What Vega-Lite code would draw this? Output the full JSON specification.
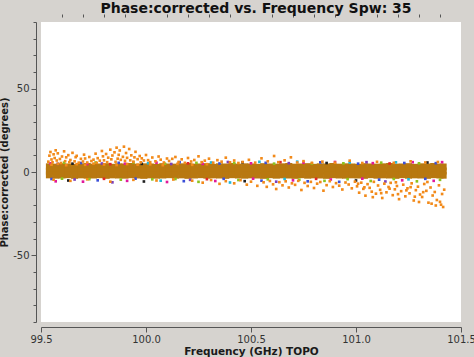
{
"$schema": "https://vega.github.io/schema/vega-lite/v6.json",
"width": 420, "height": 300,
"autosize": {"type": "none"},
"padding": {"left": 41, "top": 22, "right": 13, "bottom": 35},
"background": "#d6d3cf",
"view": {"fill": "white", "stroke": null},
"title": {"text": "Phase:corrected vs. Frequency Spw: 35", "font": "DejaVu Sans", "fontSize": 14, "fontWeight": "bold", "color": "#111111", "offset": -2, "dx": 5},
"config": {"axis": {"domainColor": "#555555", "tickColor": "#555555", "labelColor": "#333333", "labelFont": "DejaVu Sans", "labelFontSize": 10, "titleFont": "DejaVu Sans", "titleFontWeight": "bold", "titleColor": "#1a1a1a", "grid": false}},
"data": {"values": [
{"freq":99.54,"phase":3.1,"bl":"B"},{"freq":99.54,"phase":0.5,"bl":"B"},{"freq":99.54,"phase":-1.7,"bl":"B"},
{"freq":99.57,"phase":2.9,"bl":"B"},{"freq":99.57,"phase":0.7,"bl":"B"},{"freq":99.57,"phase":-1.9,"bl":"B"},
{"freq":99.60,"phase":3.2,"bl":"B"},{"freq":99.60,"phase":0.4,"bl":"B"},{"freq":99.60,"phase":-1.8,"bl":"B"},
{"freq":99.63,"phase":3.0,"bl":"B"},{"freq":99.63,"phase":0.8,"bl":"B"},{"freq":99.63,"phase":-1.6,"bl":"B"},
{"freq":99.66,"phase":2.8,"bl":"B"},{"freq":99.66,"phase":0.6,"bl":"B"},{"freq":99.66,"phase":-2.0,"bl":"B"},
{"freq":99.69,"phase":3.1,"bl":"B"},{"freq":99.69,"phase":0.5,"bl":"B"},{"freq":99.69,"phase":-1.7,"bl":"B"},
{"freq":99.72,"phase":3.3,"bl":"B"},{"freq":99.72,"phase":0.7,"bl":"B"},{"freq":99.72,"phase":-1.9,"bl":"B"},
{"freq":99.75,"phase":2.9,"bl":"B"},{"freq":99.75,"phase":0.4,"bl":"B"},{"freq":99.75,"phase":-1.8,"bl":"B"},
{"freq":99.78,"phase":3.0,"bl":"B"},{"freq":99.78,"phase":0.6,"bl":"B"},{"freq":99.78,"phase":-1.6,"bl":"B"},
{"freq":99.81,"phase":3.2,"bl":"B"},{"freq":99.81,"phase":0.8,"bl":"B"},{"freq":99.81,"phase":-2.0,"bl":"B"},
{"freq":99.84,"phase":2.8,"bl":"B"},{"freq":99.84,"phase":0.5,"bl":"B"},{"freq":99.84,"phase":-1.7,"bl":"B"},
{"freq":99.87,"phase":3.1,"bl":"B"},{"freq":99.87,"phase":0.7,"bl":"B"},{"freq":99.87,"phase":-1.8,"bl":"B"},
{"freq":99.90,"phase":3.0,"bl":"B"},{"freq":99.90,"phase":0.4,"bl":"B"},{"freq":99.90,"phase":-1.9,"bl":"B"},
{"freq":99.93,"phase":3.3,"bl":"B"},{"freq":99.93,"phase":0.6,"bl":"B"},{"freq":99.93,"phase":-1.6,"bl":"B"},
{"freq":99.96,"phase":2.9,"bl":"B"},{"freq":99.96,"phase":0.8,"bl":"B"},{"freq":99.96,"phase":-1.8,"bl":"B"},
{"freq":99.99,"phase":3.1,"bl":"B"},{"freq":99.99,"phase":0.5,"bl":"B"},{"freq":99.99,"phase":-2.0,"bl":"B"},
{"freq":100.02,"phase":3.0,"bl":"B"},{"freq":100.02,"phase":0.7,"bl":"B"},{"freq":100.02,"phase":-1.7,"bl":"B"},
{"freq":100.05,"phase":2.8,"bl":"B"},{"freq":100.05,"phase":0.4,"bl":"B"},{"freq":100.05,"phase":-1.9,"bl":"B"},
{"freq":100.08,"phase":3.2,"bl":"B"},{"freq":100.08,"phase":0.6,"bl":"B"},{"freq":100.08,"phase":-1.8,"bl":"B"},
{"freq":100.11,"phase":3.0,"bl":"B"},{"freq":100.11,"phase":0.8,"bl":"B"},{"freq":100.11,"phase":-1.6,"bl":"B"},
{"freq":100.14,"phase":2.9,"bl":"B"},{"freq":100.14,"phase":0.5,"bl":"B"},{"freq":100.14,"phase":-1.9,"bl":"B"},
{"freq":100.17,"phase":3.1,"bl":"B"},{"freq":100.17,"phase":0.7,"bl":"B"},{"freq":100.17,"phase":-1.7,"bl":"B"},
{"freq":100.20,"phase":3.3,"bl":"B"},{"freq":100.20,"phase":0.4,"bl":"B"},{"freq":100.20,"phase":-2.0,"bl":"B"},
{"freq":100.23,"phase":2.9,"bl":"B"},{"freq":100.23,"phase":0.6,"bl":"B"},{"freq":100.23,"phase":-1.8,"bl":"B"},
{"freq":100.26,"phase":3.0,"bl":"B"},{"freq":100.26,"phase":0.8,"bl":"B"},{"freq":100.26,"phase":-1.6,"bl":"B"},
{"freq":100.29,"phase":3.2,"bl":"B"},{"freq":100.29,"phase":0.5,"bl":"B"},{"freq":100.29,"phase":-1.9,"bl":"B"},
{"freq":100.32,"phase":2.8,"bl":"B"},{"freq":100.32,"phase":0.7,"bl":"B"},{"freq":100.32,"phase":-1.7,"bl":"B"},
{"freq":100.35,"phase":3.1,"bl":"B"},{"freq":100.35,"phase":0.4,"bl":"B"},{"freq":100.35,"phase":-1.8,"bl":"B"},
{"freq":100.38,"phase":3.0,"bl":"B"},{"freq":100.38,"phase":0.6,"bl":"B"},{"freq":100.38,"phase":-2.0,"bl":"B"},
{"freq":100.41,"phase":3.3,"bl":"B"},{"freq":100.41,"phase":0.8,"bl":"B"},{"freq":100.41,"phase":-1.6,"bl":"B"},
{"freq":100.44,"phase":2.9,"bl":"B"},{"freq":100.44,"phase":0.5,"bl":"B"},{"freq":100.44,"phase":-1.8,"bl":"B"},
{"freq":100.47,"phase":3.1,"bl":"B"},{"freq":100.47,"phase":0.7,"bl":"B"},{"freq":100.47,"phase":-1.9,"bl":"B"},
{"freq":100.50,"phase":3.0,"bl":"B"},{"freq":100.50,"phase":0.4,"bl":"B"},{"freq":100.50,"phase":-1.7,"bl":"B"},
{"freq":100.53,"phase":2.8,"bl":"B"},{"freq":100.53,"phase":0.6,"bl":"B"},{"freq":100.53,"phase":-1.8,"bl":"B"},
{"freq":100.56,"phase":3.2,"bl":"B"},{"freq":100.56,"phase":0.8,"bl":"B"},{"freq":100.56,"phase":-2.0,"bl":"B"},
{"freq":100.59,"phase":3.0,"bl":"B"},{"freq":100.59,"phase":0.5,"bl":"B"},{"freq":100.59,"phase":-1.6,"bl":"B"},
{"freq":100.62,"phase":2.9,"bl":"B"},{"freq":100.62,"phase":0.7,"bl":"B"},{"freq":100.62,"phase":-1.9,"bl":"B"},
{"freq":100.65,"phase":3.1,"bl":"B"},{"freq":100.65,"phase":0.4,"bl":"B"},{"freq":100.65,"phase":-1.7,"bl":"B"},
{"freq":100.68,"phase":3.3,"bl":"B"},{"freq":100.68,"phase":0.6,"bl":"B"},{"freq":100.68,"phase":-1.8,"bl":"B"},
{"freq":100.71,"phase":2.9,"bl":"B"},{"freq":100.71,"phase":0.8,"bl":"B"},{"freq":100.71,"phase":-2.0,"bl":"B"},
{"freq":100.74,"phase":3.0,"bl":"B"},{"freq":100.74,"phase":0.5,"bl":"B"},{"freq":100.74,"phase":-1.6,"bl":"B"},
{"freq":100.77,"phase":3.2,"bl":"B"},{"freq":100.77,"phase":0.7,"bl":"B"},{"freq":100.77,"phase":-1.9,"bl":"B"},
{"freq":100.80,"phase":2.8,"bl":"B"},{"freq":100.80,"phase":0.4,"bl":"B"},{"freq":100.80,"phase":-1.7,"bl":"B"},
{"freq":100.83,"phase":3.1,"bl":"B"},{"freq":100.83,"phase":0.6,"bl":"B"},{"freq":100.83,"phase":-1.8,"bl":"B"},
{"freq":100.86,"phase":3.0,"bl":"B"},{"freq":100.86,"phase":0.8,"bl":"B"},{"freq":100.86,"phase":-2.0,"bl":"B"},
{"freq":100.89,"phase":3.3,"bl":"B"},{"freq":100.89,"phase":0.5,"bl":"B"},{"freq":100.89,"phase":-1.6,"bl":"B"},
{"freq":100.92,"phase":2.9,"bl":"B"},{"freq":100.92,"phase":0.7,"bl":"B"},{"freq":100.92,"phase":-1.8,"bl":"B"},
{"freq":100.95,"phase":3.1,"bl":"B"},{"freq":100.95,"phase":0.4,"bl":"B"},{"freq":100.95,"phase":-1.9,"bl":"B"},
{"freq":100.98,"phase":3.0,"bl":"B"},{"freq":100.98,"phase":0.6,"bl":"B"},{"freq":100.98,"phase":-1.7,"bl":"B"},
{"freq":101.01,"phase":2.8,"bl":"B"},{"freq":101.01,"phase":0.8,"bl":"B"},{"freq":101.01,"phase":-1.8,"bl":"B"},
{"freq":101.04,"phase":3.2,"bl":"B"},{"freq":101.04,"phase":0.5,"bl":"B"},{"freq":101.04,"phase":-2.0,"bl":"B"},
{"freq":101.07,"phase":3.0,"bl":"B"},{"freq":101.07,"phase":0.7,"bl":"B"},{"freq":101.07,"phase":-1.6,"bl":"B"},
{"freq":101.10,"phase":2.9,"bl":"B"},{"freq":101.10,"phase":0.4,"bl":"B"},{"freq":101.10,"phase":-1.9,"bl":"B"},
{"freq":101.13,"phase":3.1,"bl":"B"},{"freq":101.13,"phase":0.6,"bl":"B"},{"freq":101.13,"phase":-1.7,"bl":"B"},
{"freq":101.16,"phase":3.3,"bl":"B"},{"freq":101.16,"phase":0.8,"bl":"B"},{"freq":101.16,"phase":-1.8,"bl":"B"},
{"freq":101.19,"phase":2.9,"bl":"B"},{"freq":101.19,"phase":0.5,"bl":"B"},{"freq":101.19,"phase":-2.0,"bl":"B"},
{"freq":101.22,"phase":3.0,"bl":"B"},{"freq":101.22,"phase":0.7,"bl":"B"},{"freq":101.22,"phase":-1.6,"bl":"B"},
{"freq":101.25,"phase":3.2,"bl":"B"},{"freq":101.25,"phase":0.4,"bl":"B"},{"freq":101.25,"phase":-1.9,"bl":"B"},
{"freq":101.28,"phase":2.8,"bl":"B"},{"freq":101.28,"phase":0.6,"bl":"B"},{"freq":101.28,"phase":-1.7,"bl":"B"},
{"freq":101.31,"phase":3.1,"bl":"B"},{"freq":101.31,"phase":0.8,"bl":"B"},{"freq":101.31,"phase":-1.8,"bl":"B"},
{"freq":101.34,"phase":3.0,"bl":"B"},{"freq":101.34,"phase":0.5,"bl":"B"},{"freq":101.34,"phase":-2.0,"bl":"B"},
{"freq":101.37,"phase":3.3,"bl":"B"},{"freq":101.37,"phase":0.7,"bl":"B"},{"freq":101.37,"phase":-1.6,"bl":"B"},
{"freq":101.40,"phase":2.9,"bl":"B"},{"freq":101.40,"phase":0.4,"bl":"B"},{"freq":101.40,"phase":-1.8,"bl":"B"},
{"freq":101.415,"phase":3.0,"bl":"B"},{"freq":101.415,"phase":0.6,"bl":"B"},{"freq":101.415,"phase":-1.9,"bl":"B"},
{"freq":99.545,"phase":5.2,"bl":"M"},{"freq":99.58,"phase":4.9,"bl":"P"},{"freq":99.61,"phase":5.6,"bl":"G"},{"freq":99.65,"phase":5.0,"bl":"K"},
{"freq":99.69,"phase":5.4,"bl":"U"},{"freq":99.72,"phase":4.8,"bl":"M"},{"freq":99.76,"phase":5.7,"bl":"G"},{"freq":99.79,"phase":5.1,"bl":"P"},
{"freq":99.83,"phase":4.7,"bl":"R"},{"freq":99.87,"phase":5.5,"bl":"U"},{"freq":99.90,"phase":5.0,"bl":"M"},{"freq":99.94,"phase":5.8,"bl":"G"},
{"freq":99.98,"phase":4.9,"bl":"K"},{"freq":100.01,"phase":5.3,"bl":"C"},{"freq":100.05,"phase":5.6,"bl":"M"},{"freq":100.09,"phase":5.0,"bl":"G"},
{"freq":100.12,"phase":4.8,"bl":"P"},{"freq":100.16,"phase":5.9,"bl":"U"},{"freq":100.20,"phase":5.2,"bl":"R"},{"freq":100.24,"phase":5.5,"bl":"G"},
{"freq":100.27,"phase":4.9,"bl":"M"},{"freq":100.31,"phase":5.7,"bl":"C"},{"freq":100.35,"phase":5.1,"bl":"U"},{"freq":100.39,"phase":6.0,"bl":"P"},
{"freq":100.42,"phase":5.4,"bl":"G"},{"freq":100.46,"phase":5.8,"bl":"K"},{"freq":100.50,"phase":5.2,"bl":"M"},{"freq":100.54,"phase":6.1,"bl":"C"},
{"freq":100.57,"phase":5.5,"bl":"U"},{"freq":100.61,"phase":5.0,"bl":"G"},{"freq":100.64,"phase":5.9,"bl":"R"},{"freq":100.68,"phase":5.3,"bl":"P"},
{"freq":100.72,"phase":6.2,"bl":"C"},{"freq":100.75,"phase":5.6,"bl":"M"},{"freq":100.79,"phase":5.1,"bl":"G"},{"freq":100.83,"phase":5.8,"bl":"U"},
{"freq":100.86,"phase":5.4,"bl":"K"},{"freq":100.90,"phase":6.0,"bl":"M"},{"freq":100.94,"phase":5.2,"bl":"G"},{"freq":100.97,"phase":5.7,"bl":"C"},
{"freq":101.01,"phase":5.0,"bl":"U"},{"freq":101.05,"phase":5.9,"bl":"P"},{"freq":101.08,"phase":5.3,"bl":"M"},{"freq":101.12,"phase":5.6,"bl":"G"},
{"freq":101.16,"phase":5.1,"bl":"R"},{"freq":101.19,"phase":5.8,"bl":"C"},{"freq":101.23,"phase":5.4,"bl":"U"},{"freq":101.27,"phase":5.9,"bl":"M"},
{"freq":101.30,"phase":5.2,"bl":"G"},{"freq":101.34,"phase":5.7,"bl":"K"},{"freq":101.38,"phase":5.3,"bl":"U"},{"freq":101.41,"phase":5.9,"bl":"M"},
{"freq":99.55,"phase":-4.2,"bl":"U"},{"freq":99.57,"phase":-5.6,"bl":"M"},{"freq":99.60,"phase":-4.0,"bl":"G"},{"freq":99.63,"phase":-5.1,"bl":"K"},
{"freq":99.66,"phase":-4.5,"bl":"P"},{"freq":99.70,"phase":-5.8,"bl":"M"},{"freq":99.73,"phase":-4.3,"bl":"G"},{"freq":99.77,"phase":-5.0,"bl":"U"},
{"freq":99.80,"phase":-4.1,"bl":"R"},{"freq":99.84,"phase":-6.2,"bl":"P"},{"freq":99.88,"phase":-4.6,"bl":"G"},{"freq":99.91,"phase":-5.3,"bl":"M"},
{"freq":99.95,"phase":-4.0,"bl":"U"},{"freq":99.99,"phase":-5.7,"bl":"K"},{"freq":100.03,"phase":-4.4,"bl":"G"},{"freq":100.07,"phase":-5.2,"bl":"C"},
{"freq":100.10,"phase":-6.0,"bl":"M"},{"freq":100.14,"phase":-4.2,"bl":"G"},{"freq":100.18,"phase":-5.5,"bl":"U"},{"freq":100.21,"phase":-4.7,"bl":"P"},
{"freq":100.25,"phase":-5.9,"bl":"G"},{"freq":100.29,"phase":-4.3,"bl":"R"},{"freq":100.33,"phase":-5.4,"bl":"M"},{"freq":100.37,"phase":-4.1,"bl":"U"},
{"freq":100.40,"phase":-6.3,"bl":"C"},{"freq":100.44,"phase":-4.8,"bl":"G"},{"freq":100.47,"phase":-5.5,"bl":"K"},{"freq":100.51,"phase":-4.0,"bl":"M"},
{"freq":100.55,"phase":-5.2,"bl":"U"},{"freq":100.58,"phase":-4.4,"bl":"G"},{"freq":100.62,"phase":-5.8,"bl":"P"},{"freq":100.66,"phase":-4.2,"bl":"C"},
{"freq":100.70,"phase":-5.0,"bl":"M"},{"freq":100.73,"phase":-4.6,"bl":"G"},{"freq":100.77,"phase":-5.6,"bl":"U"},{"freq":100.81,"phase":-4.1,"bl":"R"},
{"freq":100.85,"phase":-5.3,"bl":"G"},{"freq":100.88,"phase":-4.5,"bl":"M"},{"freq":100.92,"phase":-5.9,"bl":"U"},{"freq":100.96,"phase":-4.3,"bl":"G"},
{"freq":101.00,"phase":-5.1,"bl":"K"},{"freq":101.03,"phase":-4.0,"bl":"M"},{"freq":101.07,"phase":-5.4,"bl":"G"},{"freq":101.11,"phase":-4.6,"bl":"U"},
{"freq":101.14,"phase":-5.7,"bl":"P"},{"freq":101.18,"phase":-4.2,"bl":"G"},{"freq":101.22,"phase":-5.0,"bl":"M"},{"freq":101.25,"phase":-4.4,"bl":"C"},
{"freq":101.29,"phase":-5.6,"bl":"G"},{"freq":101.33,"phase":-4.1,"bl":"U"},{"freq":101.37,"phase":-5.3,"bl":"M"},{"freq":101.40,"phase":-4.7,"bl":"G"},
{"freq":99.535,"phase":6.2,"bl":"O"},{"freq":99.54,"phase":9.8,"bl":"O"},{"freq":99.545,"phase":12.0,"bl":"O"},{"freq":99.55,"phase":7.5,"bl":"O"},
{"freq":99.555,"phase":5.8,"bl":"O"},{"freq":99.56,"phase":10.6,"bl":"O"},{"freq":99.565,"phase":8.4,"bl":"O"},{"freq":99.57,"phase":13.0,"bl":"O"},
{"freq":99.575,"phase":6.9,"bl":"O"},{"freq":99.58,"phase":11.2,"bl":"O"},{"freq":99.59,"phase":7.8,"bl":"O"},{"freq":99.595,"phase":5.4,"bl":"O"},
{"freq":99.60,"phase":9.3,"bl":"O"},{"freq":99.61,"phase":12.4,"bl":"O"},{"freq":99.615,"phase":6.5,"bl":"O"},{"freq":99.62,"phase":8.8,"bl":"O"},
{"freq":99.63,"phase":10.1,"bl":"O"},{"freq":99.635,"phase":5.9,"bl":"O"},{"freq":99.64,"phase":7.2,"bl":"O"},{"freq":99.65,"phase":11.5,"bl":"O"},
{"freq":99.66,"phase":6.4,"bl":"O"},{"freq":99.665,"phase":8.9,"bl":"O"},{"freq":99.67,"phase":9.7,"bl":"O"},{"freq":99.68,"phase":5.6,"bl":"O"},
{"freq":99.69,"phase":7.9,"bl":"O"},{"freq":99.70,"phase":6.3,"bl":"O"},{"freq":99.705,"phase":10.4,"bl":"O"},{"freq":99.71,"phase":8.1,"bl":"O"},
{"freq":99.72,"phase":5.7,"bl":"O"},{"freq":99.73,"phase":9.0,"bl":"O"},{"freq":99.74,"phase":6.6,"bl":"O"},{"freq":99.75,"phase":7.4,"bl":"O"},
{"freq":99.76,"phase":11.0,"bl":"O"},{"freq":99.765,"phase":5.5,"bl":"O"},{"freq":99.77,"phase":8.3,"bl":"O"},{"freq":99.78,"phase":6.8,"bl":"O"},
{"freq":99.79,"phase":12.6,"bl":"O"},{"freq":99.795,"phase":9.4,"bl":"O"},{"freq":99.80,"phase":7.0,"bl":"O"},{"freq":99.81,"phase":10.8,"bl":"O"},
{"freq":99.815,"phase":5.9,"bl":"O"},{"freq":99.82,"phase":8.6,"bl":"O"},{"freq":99.83,"phase":13.4,"bl":"O"},{"freq":99.835,"phase":7.6,"bl":"O"},
{"freq":99.84,"phase":9.9,"bl":"O"},{"freq":99.85,"phase":11.8,"bl":"O"},{"freq":99.855,"phase":6.1,"bl":"O"},{"freq":99.86,"phase":14.6,"bl":"O"},
{"freq":99.865,"phase":8.0,"bl":"O"},{"freq":99.87,"phase":10.3,"bl":"O"},{"freq":99.875,"phase":12.9,"bl":"O"},{"freq":99.88,"phase":7.3,"bl":"O"},
{"freq":99.89,"phase":9.1,"bl":"O"},{"freq":99.895,"phase":15.2,"bl":"O"},{"freq":99.90,"phase":6.7,"bl":"O"},{"freq":99.905,"phase":11.4,"bl":"O"},
{"freq":99.91,"phase":8.5,"bl":"O"},{"freq":99.92,"phase":13.8,"bl":"O"},{"freq":99.925,"phase":7.0,"bl":"O"},{"freq":99.93,"phase":10.0,"bl":"O"},
{"freq":99.94,"phase":6.2,"bl":"O"},{"freq":99.945,"phase":8.8,"bl":"O"},{"freq":99.95,"phase":12.1,"bl":"O"},{"freq":99.96,"phase":7.7,"bl":"O"},
{"freq":99.97,"phase":9.6,"bl":"O"},{"freq":99.975,"phase":5.8,"bl":"O"},{"freq":99.98,"phase":8.2,"bl":"O"},{"freq":99.99,"phase":6.9,"bl":"O"},
{"freq":100.00,"phase":10.2,"bl":"O"},{"freq":100.01,"phase":7.1,"bl":"O"},{"freq":100.02,"phase":5.9,"bl":"O"},{"freq":100.03,"phase":8.7,"bl":"O"},
{"freq":100.045,"phase":6.4,"bl":"O"},{"freq":100.06,"phase":9.3,"bl":"O"},{"freq":100.07,"phase":7.4,"bl":"O"},{"freq":100.085,"phase":5.7,"bl":"O"},
{"freq":100.10,"phase":8.1,"bl":"O"},{"freq":100.11,"phase":6.6,"bl":"O"},{"freq":100.125,"phase":7.9,"bl":"O"},{"freq":100.14,"phase":9.0,"bl":"O"},
{"freq":100.155,"phase":6.0,"bl":"O"},{"freq":100.17,"phase":7.6,"bl":"O"},{"freq":100.185,"phase":5.5,"bl":"O"},{"freq":100.20,"phase":8.4,"bl":"O"},
{"freq":100.215,"phase":6.3,"bl":"O"},{"freq":100.23,"phase":7.2,"bl":"O"},{"freq":100.25,"phase":9.4,"bl":"O"},{"freq":100.265,"phase":5.9,"bl":"O"},
{"freq":100.28,"phase":6.8,"bl":"O"},{"freq":100.30,"phase":8.0,"bl":"O"},{"freq":100.32,"phase":5.6,"bl":"O"},{"freq":100.34,"phase":7.1,"bl":"O"},
{"freq":100.36,"phase":6.2,"bl":"O"},{"freq":100.38,"phase":8.6,"bl":"O"},{"freq":100.40,"phase":5.8,"bl":"O"},{"freq":100.42,"phase":6.9,"bl":"O"},
{"freq":100.44,"phase":5.4,"bl":"O"},
{"freq":99.55,"phase":4.4,"bl":"O"},{"freq":99.58,"phase":4.9,"bl":"O"},{"freq":99.62,"phase":4.1,"bl":"O"},{"freq":99.67,"phase":4.7,"bl":"O"},
{"freq":99.71,"phase":4.3,"bl":"O"},{"freq":99.75,"phase":5.0,"bl":"O"},{"freq":99.80,"phase":4.5,"bl":"O"},{"freq":99.86,"phase":4.2,"bl":"O"},
{"freq":99.91,"phase":4.8,"bl":"O"},{"freq":99.96,"phase":4.4,"bl":"O"},{"freq":100.02,"phase":4.6,"bl":"O"},{"freq":100.08,"phase":4.1,"bl":"O"},
{"freq":100.15,"phase":4.9,"bl":"O"},{"freq":100.22,"phase":4.3,"bl":"O"},{"freq":100.29,"phase":4.7,"bl":"O"},
{"freq":100.46,"phase":6.0,"bl":"O"},{"freq":100.49,"phase":7.3,"bl":"O"},{"freq":100.52,"phase":5.6,"bl":"O"},{"freq":100.55,"phase":8.2,"bl":"O"},
{"freq":100.58,"phase":6.4,"bl":"O"},{"freq":100.61,"phase":9.6,"bl":"O"},{"freq":100.63,"phase":5.9,"bl":"O"},{"freq":100.66,"phase":7.0,"bl":"O"},
{"freq":100.69,"phase":8.8,"bl":"O"},{"freq":100.72,"phase":5.7,"bl":"O"},{"freq":100.75,"phase":6.5,"bl":"O"},{"freq":100.79,"phase":5.5,"bl":"O"},
{"freq":100.84,"phase":6.2,"bl":"O"},{"freq":100.90,"phase":5.6,"bl":"O"},{"freq":100.97,"phase":6.8,"bl":"O"},{"freq":101.03,"phase":5.4,"bl":"O"},
{"freq":101.10,"phase":6.1,"bl":"O"},{"freq":101.18,"phase":5.5,"bl":"O"},{"freq":101.26,"phase":6.4,"bl":"O"},{"freq":101.33,"phase":5.7,"bl":"O"},
{"freq":101.39,"phase":6.0,"bl":"O"},
{"freq":99.56,"phase":-4.6,"bl":"O"},{"freq":99.64,"phase":-5.3,"bl":"O"},{"freq":99.72,"phase":-4.4,"bl":"O"},{"freq":99.83,"phase":-5.8,"bl":"O"},
{"freq":99.94,"phase":-4.7,"bl":"O"},{"freq":100.05,"phase":-5.1,"bl":"O"},{"freq":100.13,"phase":-4.5,"bl":"O"},
{"freq":100.22,"phase":-5.2,"bl":"O"},{"freq":100.27,"phase":-6.4,"bl":"O"},{"freq":100.31,"phase":-4.8,"bl":"O"},{"freq":100.35,"phase":-7.1,"bl":"O"},
{"freq":100.38,"phase":-5.5,"bl":"O"},{"freq":100.42,"phase":-6.8,"bl":"O"},{"freq":100.45,"phase":-4.9,"bl":"O"},{"freq":100.48,"phase":-7.6,"bl":"O"},
{"freq":100.50,"phase":-5.8,"bl":"O"},{"freq":100.53,"phase":-8.3,"bl":"O"},
{"freq":100.56,"phase":-6.2,"bl":"O"},{"freq":100.575,"phase":-8.9,"bl":"O"},{"freq":100.59,"phase":-5.4,"bl":"O"},{"freq":100.605,"phase":-7.4,"bl":"O"},
{"freq":100.62,"phase":-10.2,"bl":"O"},{"freq":100.635,"phase":-6.1,"bl":"O"},{"freq":100.65,"phase":-8.0,"bl":"O"},{"freq":100.665,"phase":-5.6,"bl":"O"},
{"freq":100.68,"phase":-9.3,"bl":"O"},{"freq":100.695,"phase":-6.8,"bl":"O"},{"freq":100.71,"phase":-7.7,"bl":"O"},{"freq":100.725,"phase":-5.3,"bl":"O"},
{"freq":100.74,"phase":-10.8,"bl":"O"},{"freq":100.755,"phase":-6.5,"bl":"O"},{"freq":100.77,"phase":-8.4,"bl":"O"},{"freq":100.785,"phase":-5.9,"bl":"O"},
{"freq":100.80,"phase":-9.6,"bl":"O"},{"freq":100.815,"phase":-7.0,"bl":"O"},{"freq":100.83,"phase":-6.0,"bl":"O"},{"freq":100.845,"phase":-11.2,"bl":"O"},
{"freq":100.86,"phase":-7.9,"bl":"O"},{"freq":100.875,"phase":-5.5,"bl":"O"},{"freq":100.89,"phase":-9.0,"bl":"O"},{"freq":100.905,"phase":-6.7,"bl":"O"},
{"freq":100.92,"phase":-8.2,"bl":"O"},{"freq":100.935,"phase":-10.5,"bl":"O"},{"freq":100.95,"phase":-6.3,"bl":"O"},{"freq":100.965,"phase":-7.5,"bl":"O"},
{"freq":100.98,"phase":-9.8,"bl":"O"},{"freq":100.995,"phase":-5.8,"bl":"O"},
{"freq":101.005,"phase":-8.6,"bl":"O"},{"freq":101.015,"phase":-12.4,"bl":"O"},{"freq":101.025,"phase":-6.4,"bl":"O"},{"freq":101.035,"phase":-10.1,"bl":"O"},
{"freq":101.045,"phase":-14.2,"bl":"O"},{"freq":101.055,"phase":-7.3,"bl":"O"},{"freq":101.065,"phase":-9.5,"bl":"O"},{"freq":101.075,"phase":-11.8,"bl":"O"},
{"freq":101.085,"phase":-5.9,"bl":"O"},{"freq":101.095,"phase":-13.0,"bl":"O"},{"freq":101.105,"phase":-8.1,"bl":"O"},{"freq":101.115,"phase":-10.7,"bl":"O"},
{"freq":101.125,"phase":-15.6,"bl":"O"},{"freq":101.135,"phase":-7.0,"bl":"O"},{"freq":101.145,"phase":-12.2,"bl":"O"},{"freq":101.155,"phase":-9.0,"bl":"O"},
{"freq":101.165,"phase":-6.5,"bl":"O"},{"freq":101.175,"phase":-13.9,"bl":"O"},{"freq":101.185,"phase":-10.4,"bl":"O"},{"freq":101.195,"phase":-8.4,"bl":"O"},
{"freq":101.205,"phase":-16.3,"bl":"O"},{"freq":101.215,"phase":-11.5,"bl":"O"},{"freq":101.225,"phase":-7.6,"bl":"O"},{"freq":101.235,"phase":-14.6,"bl":"O"},
{"freq":101.245,"phase":-9.8,"bl":"O"},{"freq":101.255,"phase":-12.8,"bl":"O"},{"freq":101.265,"phase":-6.8,"bl":"O"},{"freq":101.275,"phase":-17.1,"bl":"O"},
{"freq":101.285,"phase":-10.9,"bl":"O"},{"freq":101.295,"phase":-8.8,"bl":"O"},{"freq":101.305,"phase":-13.5,"bl":"O"},{"freq":101.315,"phase":-15.0,"bl":"O"},
{"freq":101.325,"phase":-7.2,"bl":"O"},{"freq":101.335,"phase":-11.3,"bl":"O"},{"freq":101.345,"phase":-18.4,"bl":"O"},{"freq":101.355,"phase":-9.3,"bl":"O"},
{"freq":101.365,"phase":-14.1,"bl":"O"},{"freq":101.375,"phase":-12.0,"bl":"O"},{"freq":101.385,"phase":-16.8,"bl":"O"},{"freq":101.395,"phase":-8.0,"bl":"O"},
{"freq":101.405,"phase":-19.6,"bl":"O"},{"freq":101.41,"phase":-13.2,"bl":"O"},{"freq":101.415,"phase":-21.0,"bl":"O"},{"freq":101.42,"phase":-10.6,"bl":"O"},
{"freq":101.40,"phase":-17.9,"bl":"O"},{"freq":101.36,"phase":-19.0,"bl":"O"},{"freq":101.32,"phase":-12.1,"bl":"O"},{"freq":101.28,"phase":-14.8,"bl":"O"},
{"freq":101.24,"phase":-11.0,"bl":"O"},{"freq":101.20,"phase":-13.3,"bl":"O"},{"freq":101.16,"phase":-10.0,"bl":"O"},{"freq":101.12,"phase":-12.7,"bl":"O"},
{"freq":101.08,"phase":-15.1,"bl":"O"},{"freq":101.04,"phase":-9.2,"bl":"O"},{"freq":101.01,"phase":-7.0,"bl":"O"},{"freq":101.30,"phase":-18.0,"bl":"O"},
{"freq":101.38,"phase":-20.1,"bl":"O"},{"freq":101.34,"phase":-6.0,"bl":"O"},{"freq":101.26,"phase":-9.1,"bl":"O"},{"freq":101.19,"phase":-6.2,"bl":"O"}
]},
"layer": [
{"transform": [{"filter": "datum.bl == 'B'"}],
 "mark": {"type": "point", "shape": "square", "filled": true, "size": 49, "opacity": 1},
 "encoding": {
  "x": {"field": "freq", "type": "quantitative", "scale": {"domain": [99.5, 101.5], "nice": false, "zero": false},
        "axis": {"values": [99.5, 100, 100.5, 101, 101.5], "format": ".1f", "tickSize": 5, "offset": 5, "labelPadding": 2, "labelFlush": false, "title": "Frequency (GHz) TOPO", "titleFontSize": 10.5, "titlePadding": 2}},
  "y": {"field": "phase", "type": "quantitative", "scale": {"domain": [-90, 90], "nice": false, "zero": false},
        "axis": {"values": [-50, 0, 50], "labelExpr": "datum.value < 0 ? '-' + abs(datum.value) : '' + datum.value", "tickSize": 5, "offset": 5, "labelPadding": 2, "title": "Phase:corrected (degrees)", "titleFontSize": 10, "titlePadding": 3}},
  "color": {"field": "bl", "type": "nominal", "legend": null,
            "scale": {"domain": ["B", "O", "G", "M", "U", "P", "K", "R", "C"], "range": ["#b87810", "#f28a1a", "#8cc21e", "#e0199b", "#3a4fd8", "#7b3fb8", "#202020", "#e02828", "#1fb8d8"]}}
 }},
{"transform": [{"filter": "datum.bl != 'B'"}],
 "mark": {"type": "point", "shape": "square", "filled": true, "size": 7, "opacity": 1},
 "encoding": {
  "x": {"field": "freq", "type": "quantitative", "axis": null},
  "y": {"field": "phase", "type": "quantitative", "axis": null},
  "color": {"field": "bl", "type": "nominal", "legend": null}
 }},
{"mark": {"type": "point", "opacity": 0},
 "encoding": {
  "x": {"field": "freq", "type": "quantitative", "axis": {"values": [99.6, 99.7, 99.8, 99.9, 100.1, 100.2, 100.3, 100.4, 100.6, 100.7, 100.8, 100.9, 101.1, 101.2, 101.3, 101.4], "labels": false, "domain": false, "tickSize": 3, "offset": 5, "title": null}},
  "y": {"field": "phase", "type": "quantitative", "axis": {"orient": "left", "values": [-90, -80, -70, -60, -40, -30, -20, -10, 10, 20, 30, 40, 60, 70, 80, 90], "labels": false, "domain": false, "tickSize": 3, "offset": 5, "title": null}}
 }}
],
"resolve": {"axis": {"x": "independent", "y": "independent"}}
}
